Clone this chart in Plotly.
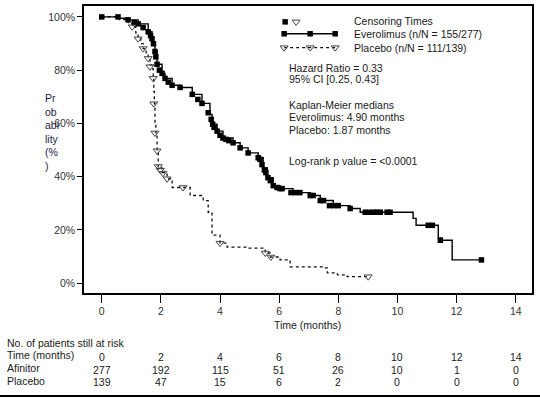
import plotly.graph_objects as go

# ---------------- data ----------------
evero_t = [0, 0.55, 0.89, 1.23, 1.57, 1.70, 1.74, 1.80, 1.87, 2.04, 2.14, 2.38, 2.65, 3.06, 3.39,
           3.66, 3.73, 3.90, 4.10, 4.44, 4.68, 4.95, 5.29, 5.46, 5.60, 5.80, 6.03, 6.47, 7.05, 7.39,
           7.83, 8.40, 8.74, 10.53, 10.63, 11.38, 11.50, 11.85, 12.84]
evero_s = [100, 99.5, 98.9, 97.4, 94.4, 91.8, 89.9, 87.0, 82.2, 78.8, 76.9, 74.3, 73.5, 70.9, 67.5,
           63.4, 59.7, 57.1, 54.5, 52.7, 50.8, 48.9, 47.1, 43.3, 39.6, 36.6, 35.5, 34.0, 32.9, 31.0,
           29.1, 28.0, 26.6, 24.3, 21.7, 16.9, 16.1, 8.7, 8.7]

evero_cens_t = [0, 0.55, 0.89, 1.1, 1.23, 1.4, 1.57, 1.65, 1.70, 1.75, 1.80, 1.83, 1.87, 1.95, 2.04,
                2.14, 2.25, 2.38, 2.65, 3.06, 3.25, 3.39, 3.6, 3.70, 3.75, 3.80, 3.90, 4.0, 4.10, 4.2,
                4.3, 4.44, 4.68, 4.95, 5.29, 5.35, 5.42, 5.50, 5.55, 5.62, 5.70, 5.80, 5.93, 6.03,
                6.1, 6.40, 6.55, 6.70, 7.05, 7.15, 7.39, 7.50, 7.70, 7.85, 8.0, 8.40, 8.91, 9.05,
                9.2, 9.3, 9.42, 9.65, 9.75, 11.04, 11.18, 11.45, 12.84]
evero_cens_s = [100, 100, 98.9, 97.8, 97.4, 96.0, 94.4, 93.0, 91.8, 89.9, 87.0, 85.0, 82.2, 80.0, 78.8,
                76.9, 75.5, 74.3, 73.5, 70.9, 69.0, 67.5, 64.0, 61.5, 59.7, 58.5, 57.1, 55.5, 54.5, 54.0,
                53.5, 52.7, 50.8, 48.9, 47.1, 46.5, 44.5, 42.5, 41.5, 39.6, 38.5, 36.6, 35.9, 35.5,
                35.5, 34.0, 34.0, 34.0, 32.9, 32.9, 31.0, 31.0, 29.1, 29.1, 29.1, 28.0, 26.6, 26.6,
                26.6, 26.6, 26.6, 26.6, 26.6, 21.7, 21.7, 16.1, 8.7]

plac_t = [0, 0.6, 0.9, 1.03, 1.15, 1.23, 1.32, 1.40, 1.50, 1.57, 1.63, 1.70, 1.74, 1.76, 1.78, 1.80,
          1.83, 1.87, 1.91, 2.04, 2.21, 2.38, 2.99, 3.43, 3.60, 3.73, 4.00, 4.24, 4.92, 5.53, 5.70,
          6.03, 6.37, 7.46, 7.63, 7.97, 8.30, 9.01]
plac_s = [100, 99, 97.5, 96.3, 94.0, 91.8, 90.0, 88.1, 86.0, 84.4, 82.0, 80.6, 76.9, 72.0, 67.4, 60.0,
          56.4, 49.7, 43.3, 41.5, 39.2, 35.9, 32.9, 31.0, 26.6, 18.0, 15.0, 13.5, 13.1, 11.3, 9.8,
          8.7, 6.1, 5.7, 3.8, 3.1, 2.4, 2.4]

plac_cens_t = [1.03, 1.23, 1.40, 1.57, 1.63, 1.74, 1.76, 1.80, 1.87, 1.91, 1.98, 2.07, 2.21, 2.75,
               4.00, 5.53, 5.72, 9.01]
plac_cens_s = [96.3, 91.8, 88.1, 84.4, 81.3, 76.9, 67.4, 56.4, 49.7, 43.8, 42.4, 41.3, 39.2, 35.9,
               15.0, 11.3, 9.8, 2.4]

x_ticks = [0, 2, 4, 6, 8, 10, 12, 14]
y_ticks = [0, 20, 40, 60, 80, 100]
y_tick_labels = ["0%", "20%", "40%", "60%", "80%", "100%"]
risk_afinitor = [277, 192, 115, 51, 26, 10, 1, 0]
risk_placebo = [139, 47, 15, 6, 2, 0, 0, 0]

legend_lines = ["Censoring Times", "Everolimus (n/N = 155/277)", "Placebo (n/N = 111/139)"]
stats_lines = ["Hazard Ratio = 0.33", "95% CI [0.25, 0.43]", "Kaplan-Meier medians",
               "Everolimus: 4.90 months", "Placebo: 1.87 months", "Log-rank p value = <0.0001"]
ylabel_parts = ["Pr", "ob", "abi", "lity", "(%", ")"]

# ---------------- layout geometry (pixels) ----------------
W, H = 540, 399
L, R, T, B = 84, 531.7, 4, 293.3
FONT = "Liberation Sans, Arial, sans-serif"
FS = 10.5
TXT = "#1a1a1a"

def pxx(x):
    return (x - L) / (R - L)
def pxy(y):
    return (B - y) / (B - T)

fig = go.Figure()

fig.add_trace(go.Scatter(x=plac_t, y=plac_s, mode="lines", line_shape="hv",
                         line=dict(color="#111", width=1.3, dash="dot"), showlegend=False,
                         hoverinfo="skip"))
fig.add_trace(go.Scatter(x=evero_t, y=evero_s, mode="lines", line_shape="hv",
                         line=dict(color="#000", width=1.4), showlegend=False, hoverinfo="skip"))
fig.add_trace(go.Scatter(x=evero_cens_t, y=evero_cens_s, mode="markers",
                         marker=dict(symbol="square", size=5.5, color="#000"),
                         showlegend=False, cliponaxis=False))
fig.add_trace(go.Scatter(x=plac_cens_t, y=plac_cens_s, mode="markers",
                         marker=dict(symbol="triangle-down-open", size=7, color="#444",
                                     line=dict(width=1)),
                         showlegend=False, cliponaxis=False))

# legend samples on a pixel-coordinate overlay axis
LX = [284, 310, 335]
fig.add_trace(go.Scatter(x=[285], y=[20], mode="markers", xaxis="x2", yaxis="y2",
                         marker=dict(symbol="square", size=5.5, color="#000"), showlegend=False))
fig.add_trace(go.Scatter(x=[296], y=[20], mode="markers", xaxis="x2", yaxis="y2",
                         marker=dict(symbol="triangle-down-open", size=7, color="#444"),
                         showlegend=False))
fig.add_trace(go.Scatter(x=LX, y=[32, 32, 32], mode="lines+markers", xaxis="x2", yaxis="y2",
                         line=dict(color="#000", width=1.4),
                         marker=dict(symbol="square", size=5.5, color="#000"), showlegend=False))
fig.add_trace(go.Scatter(x=LX, y=[46, 46, 46], mode="lines+markers", xaxis="x2", yaxis="y2",
                         line=dict(color="#111", width=1.3, dash="dot"),
                         marker=dict(symbol="triangle-down-open", size=7, color="#444"),
                         showlegend=False))

ann = []
def px_text(x, y, text, anchor="left", size=FS, color=TXT):
    ann.append(dict(x=pxx(x), y=pxy(y), xref="paper", yref="paper", text=text, showarrow=False,
                    xanchor=anchor, yanchor="middle", font=dict(family=FONT, size=size, color=color)))

for txt, yy in zip(legend_lines, [19, 32, 46]):
    px_text(352, yy, txt)
for txt, yy in zip(stats_lines, [67, 78, 104, 116, 129, 160]):
    px_text(287, yy, txt)
for i, part in enumerate(ylabel_parts):
    px_text(43, 97 + i * 13.6, part, color="#1c2245")

px_text(307, 326, "Time (months)", anchor="center")
px_text(5, 344, "No. of patients still at risk")
px_text(5, 356, "Time (months)")
px_text(5, 369, "Afinitor")
px_text(5, 382, "Placebo")

for xv, a, p in zip(x_ticks, risk_afinitor, risk_placebo):
    for val, yy in [(xv, 357.5), (a, 370.5), (p, 383.5)]:
        ann.append(dict(x=xv, y=pxy(yy), xref="x", yref="paper", text=str(val), showarrow=False,
                        xanchor="center", yanchor="middle",
                        font=dict(family=FONT, size=FS, color=TXT)))

shapes = [dict(type="line", xref="paper", yref="paper", x0=pxx(0), x1=pxx(W),
               y0=pxy(397), y1=pxy(397), line=dict(color="#000", width=2))]

fig.update_layout(
    width=W, height=H,
    margin=dict(l=L, r=W - R, t=T, b=H - B, pad=0),
    paper_bgcolor="white", plot_bgcolor="white",
    font=dict(family=FONT, size=FS, color=TXT),
    xaxis=dict(range=[-0.6, 14.55], tickvals=x_ticks, ticks="outside", ticklen=8,
               tickcolor="#000", tickwidth=1.3, showgrid=False, zeroline=False,
               showline=True, linecolor="#000", linewidth=1.5, mirror=True,
               tickfont=dict(family=FONT, size=FS, color="#333")),
    yaxis=dict(range=[-3.73, 104.1], tickvals=y_ticks, ticktext=y_tick_labels,
               ticks="outside", ticklen=5, tickcolor="#000", tickwidth=1.3,
               showgrid=False, zeroline=False, showline=True, linecolor="#000",
               linewidth=1.5, mirror=True,
               tickfont=dict(family=FONT, size=FS, color="#333")),
    xaxis2=dict(range=[L, R], overlaying="x", visible=False, fixedrange=True),
    yaxis2=dict(range=[B, T], overlaying="y", visible=False, fixedrange=True),
    annotations=ann, shapes=shapes, showlegend=False,
)

fig.write_html("out.html", config={"displayModeBar": False},
               post_script="document.body.style.margin='0';document.body.style.overflow='hidden';")
